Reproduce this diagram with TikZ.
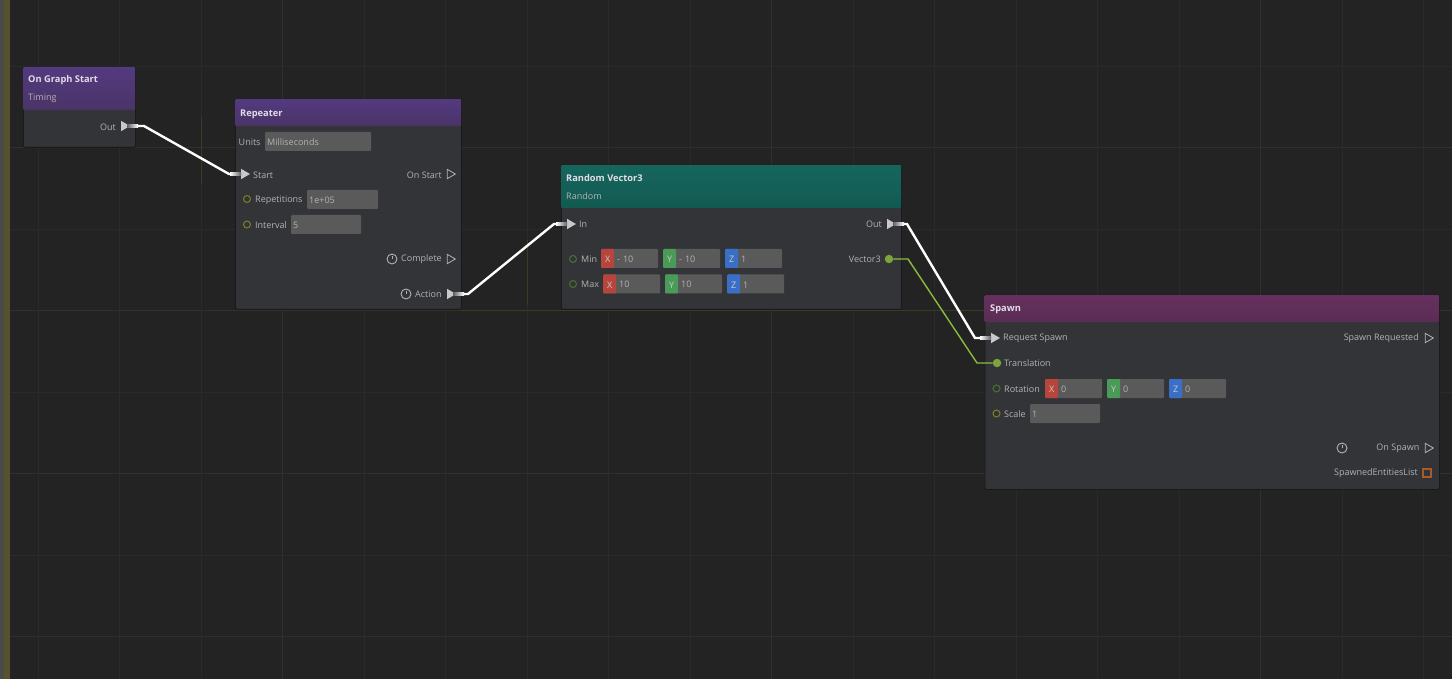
\documentclass[tikz,border=0pt]{standalone}
\usepackage{fontspec}
\setmainfont{Open Sans}
\usepackage{xcolor}
\usepackage{tikz}
\usetikzlibrary{
    calc,
    shapes.geometric
}
\definecolor{canvasbg}{HTML}{232323}
\definecolor{gridfaint}{HTML}{2A2A2A}
\definecolor{gridstrong}{HTML}{31312A}
\definecolor{gridtick}{HTML}{3A3A26}
\definecolor{bandgrey}{HTML}{4A4A4A}
\definecolor{bandolive}{HTML}{56522E}
\definecolor{bodygrey}{HTML}{323437}
\definecolor{edgedark}{HTML}{1A1A1A}
\definecolor{fieldgrey}{HTML}{5A5A5A}
\definecolor{labelgrey}{HTML}{B2B2B2}
\definecolor{titlepale}{HTML}{E2DCE8}
\definecolor{porticon}{HTML}{C8C8C8}
\definecolor{wiregreen}{HTML}{8DBB3F}
\definecolor{dotgreen}{HTML}{7DA33D}
\definecolor{pinolive}{HTML}{7F7F22}
\definecolor{pingreen}{HTML}{4F6E33}
\definecolor{pinorange}{HTML}{A85A2A}
\definecolor{axisx}{HTML}{B8453C}
\definecolor{axisy}{HTML}{4A9A58}
\definecolor{axisz}{HTML}{3A6FC8}
\definecolor{timetop}{HTML}{533A80}
\definecolor{timebot}{HTML}{4A3466}
\definecolor{randtop}{HTML}{16665E}
\definecolor{randbot}{HTML}{125A52}
\definecolor{spawntop}{HTML}{65305F}
\definecolor{spawnbot}{HTML}{5A2D54}
\definecolor{stubgrey}{HTML}{606060}
\tikzset{
    nodebody/.style 2 args={anchor=north west, inner sep=0, minimum width=#1, minimum height=#2,
        fill=bodygrey, draw=edgedark, line width=0.8, rounded corners=1.5},
    header/.style n args={4}{anchor=north west, inner sep=0, minimum width=#1, minimum height=#2,
        top color=#3, bottom color=#4, rounded corners=1},
    title/.style={anchor=west, inner sep=0, yshift=-1, text=titlepale, font=\fontsize{9.3}{11}\selectfont\bfseries},
    subtitle/.style={anchor=west, inner sep=0, yshift=-0.5, text=labelgrey, font=\fontsize{9}{11}\selectfont},
    pinleft/.style={anchor=west, inner sep=0, yshift=-0.6, text=labelgrey, font=\fontsize{9}{11}\selectfont},
    pinright/.style={anchor=east, inner sep=0, yshift=-0.6, text=labelgrey, font=\fontsize{9}{11}\selectfont},
    flowfull/.style={isosceles triangle, isosceles triangle apex angle=60, inner sep=0,
        minimum height=9, fill=porticon, xshift=-1},
    flowopen/.style={isosceles triangle, isosceles triangle apex angle=60, inner sep=0,
        minimum height=8, draw=labelgrey, line width=0.8, xshift=-1},
    pinring/.style={circle, inner sep=0, minimum size=7, draw=#1, line width=1},
    pindot/.style={circle, inner sep=0, minimum size=8.5, fill=dotgreen},
    clockicon/.style={circle, inner sep=0, minimum size=10, draw=labelgrey, line width=0.9,
        path picture={\draw[labelgrey, line width=0.9] (path picture bounding box.center) -- ++(0,-3);}},
    field/.style={anchor=west, inner sep=0, inner xsep=2, text width=#1-4, minimum height=19,
        fill=fieldgrey, rounded corners=1, text=labelgrey,
        font=\fontsize{9}{11}\selectfont, execute at begin node=\rule{0pt}{8pt}},
    vecfield/.style={field=57, execute at begin node=\rule{0pt}{8pt}\hspace*{14pt}},
    axistag/.style={anchor=west, inner sep=0, minimum width=13, minimum height=19, fill=#1,
        rounded corners=1, text=labelgrey!70!white, text height=8.5, text depth=0,
        font=\fontsize{9}{11}\selectfont},
    wire/.style={white, line width=2.4},
    greenwire/.style={wiregreen, line width=1.4},
    stubout/.style={left color=stubgrey, right color=white},
    stubin/.style={left color=white, right color=stubgrey}
}

\begin{document}
\begin{tikzpicture}[x=1pt, y=-1pt]
    \useasboundingbox (0,0) rectangle (1452,679);
    \fill[canvasbg] (0,0) rectangle (1452,679);

    % background grid
    \foreach \gx in {38,119.5,201,282.5,364,445.5,527,608.5,690,771.5,853,934.5,1016,1097.5,1179,1260.5,1342,1423.5}
        \draw[gridfaint, line width=0.8] (\gx,0) -- (\gx,679);
    \foreach \gy in {66,229,392,555}
        \draw[gridfaint, line width=0.8] (10,\gy) -- (1452,\gy);
    \foreach \gy in {147.5,310.5,473.5,636.5}
        \draw[gridstrong, line width=0.9] (10,\gy) -- (1452,\gy);
    \foreach \gx in {282.5,771.5,1260.5}
        \draw[gridstrong, line width=0.8] (\gx,0) -- (\gx,679);
    \draw[gridtick, line width=0.8] (201,116) -- (201,184);
    \draw[gridtick, line width=0.8] (527,240) -- (527,305);
    \draw[gridtick, line width=0.9] (461,310.5) -- (984,310.5);

    % left band
    \fill[bandgrey] (0,0) rectangle (4,679);
    \fill[bandolive] (4,0) rectangle (10,679);

    % On Graph Start
    \draw (23,67) node[nodebody={112}{80}](graphbody){};
    \draw (23,67) node[header={112}{43}{timetop}{timebot}](graphhead){};
    \draw (28,79.5) node[title](graphtitle){On Graph Start};
    \draw (28,98) node[subtitle](graphsub){Timing};
    \draw (116,126.5) node[pinright](graphoutlabel){Out};
    \draw (125,126) node[flowfull](graphout){};

    % Repeater
    \draw (235,99) node[nodebody={226}{210}](repbody){};
    \draw (235,99) node[header={226}{27}{timetop}{timebot}](rephead){};
    \draw (240,113.5) node[title](reptitle){Repeater};
    \draw (238.5,142) node[pinleft](unitslabel){Units};
    \draw (265,141.5) node[field=106](unitsfield){Milliseconds};
    \draw (245,174) node[flowfull](repstart){};
    \draw (253,174.5) node[pinleft](startlabel){Start};
    \draw (442,174.5) node[pinright](onstartlabel){On Start};
    \draw (451,174) node[flowopen](repdone){};
    \draw (247,199) node[pinring=pinolive](reppin){};
    \draw (255,199.5) node[pinleft](replabel){Repetitions};
    \draw (307,199.5) node[field=71](repfield){1e+05};
    \draw (247,224.5) node[pinring=pinolive](intpin){};
    \draw (255,225) node[pinleft](intlabel){Interval};
    \draw (291,224.5) node[field=70](intfield){5};
    \draw (392,259) node[clockicon](completeclock){};
    \draw (401,259) node[pinleft](completelabel){Complete};
    \draw (451,259) node[flowopen](repcomplete){};
    \draw (406,294) node[clockicon](actionclock){};
    \draw (415,294) node[pinleft](actionlabel){Action};
    \draw (451,294) node[flowfull](repaction){};

    % Random Vector3
    \draw (561,165) node[nodebody={340}{144}](randbody){};
    \draw (561,165) node[header={340}{43}{randtop}{randbot}](randhead){};
    \draw (566,177.5) node[title](randtitle){Random Vector3};
    \draw (566,196) node[subtitle](randsub){Random};
    \draw (571,224) node[flowfull](randin){};
    \draw (579,224) node[pinleft](inlabel){In};
    \draw (882,224) node[pinright](randoutlabel){Out};
    \draw (891,224) node[flowfull](randout){};
    \draw (573,259) node[pinring=pingreen](minpin){};
    \draw (581,259) node[pinleft](minlabel){Min};
    \draw (601,258.5) node[vecfield](minx){- 10} (601,258.5) node[axistag=axisx](mintagx){X};
    \draw (663,258.5) node[vecfield](miny){- 10} (663,258.5) node[axistag=axisy](mintagy){Y};
    \draw (725,258.5) node[vecfield](minz){1} (725,258.5) node[axistag=axisz](mintagz){Z};
    \draw (573,284) node[pinring=pingreen](maxpin){};
    \draw (581,284) node[pinleft](maxlabel){Max};
    \draw (603,284) node[vecfield](maxx){10} (603,284) node[axistag=axisx](maxtagx){X};
    \draw (665,284) node[vecfield](maxy){10} (665,284) node[axistag=axisy](maxtagy){Y};
    \draw (727,284) node[vecfield](maxz){1} (727,284) node[axistag=axisz](maxtagz){Z};
    \draw (881,259) node[pinright](veclabel){Vector3};
    \draw (889,259) node[pindot](randvec){};

    % Spawn
    \draw (984.5,295) node[nodebody={454.5}{194}](spawnbody){};
    \draw (984.5,295) node[header={454.5}{27}{spawntop}{spawnbot}](spawnhead){};
    \draw (990,308) node[title](spawntitle){Spawn};
    \draw (995,338) node[flowfull](spawnreq){};
    \draw (1003,338) node[pinleft](reqlabel){Request Spawn};
    \draw (1419,338) node[pinright](reqdonelabel){Spawn Requested};
    \draw (1429,338) node[flowopen](spawnreqdone){};
    \draw (997,363) node[pindot](spawntrans){};
    \draw (1004,363) node[pinleft](translabel){Translation};
    \draw (996.5,388.5) node[pinring=pingreen](rotpin){};
    \draw (1004,389) node[pinleft](rotlabel){Rotation};
    \draw (1045,388.5) node[vecfield](rotx){0} (1045,388.5) node[axistag=axisx](rottagx){X};
    \draw (1107,388.5) node[vecfield](roty){0} (1107,388.5) node[axistag=axisy](rottagy){Y};
    \draw (1169,388.5) node[vecfield](rotz){0} (1169,388.5) node[axistag=axisz](rottagz){Z};
    \draw (996.5,413.5) node[pinring=pinolive](scalepin){};
    \draw (1004,414) node[pinleft](scalelabel){Scale};
    \draw (1030,413.5) node[field=70](scalefield){1};
    \draw (1342,448) node[clockicon](spawnclock){};
    \draw (1419.5,448) node[pinright](onspawnlabel){On Spawn};
    \draw (1429,448) node[flowopen](onspawn){};
    \draw (1418,473) node[pinright](listlabel){SpawnedEntitiesList};
    \draw (1427,473) node[rectangle, inner sep=0, minimum size=8, draw=pinorange, line width=1.2](listpin){};

    % connectors
    \draw[wire] (graphout) -- ++(20,0) -- ($(repstart)+(-15,0)$) -- (repstart);
    \draw[wire] (repaction) -- ++(18,0) -- ($(randin)+(-16,0)$) -- (randin);
    \draw[wire] (randout) -- ++(17,0) -- ($(spawnreq)+(-19,0)$) -- (spawnreq);
    \draw[greenwire] (randvec) -- ++(19,0) -- ($(spawntrans)+(-20,0)$) -- (spawntrans);
    \foreach \p in {graphout,repaction,randout}
        \shade[stubout] ($(\p)+(3,-1.2)$) rectangle ($(\p)+(14,1.2)$);
    \foreach \p in {repstart,randin,spawnreq}
        \shade[stubin] ($(\p)+(-14,-1.2)$) rectangle ($(\p)+(-3,1.2)$);
\end{tikzpicture}
\end{document}
